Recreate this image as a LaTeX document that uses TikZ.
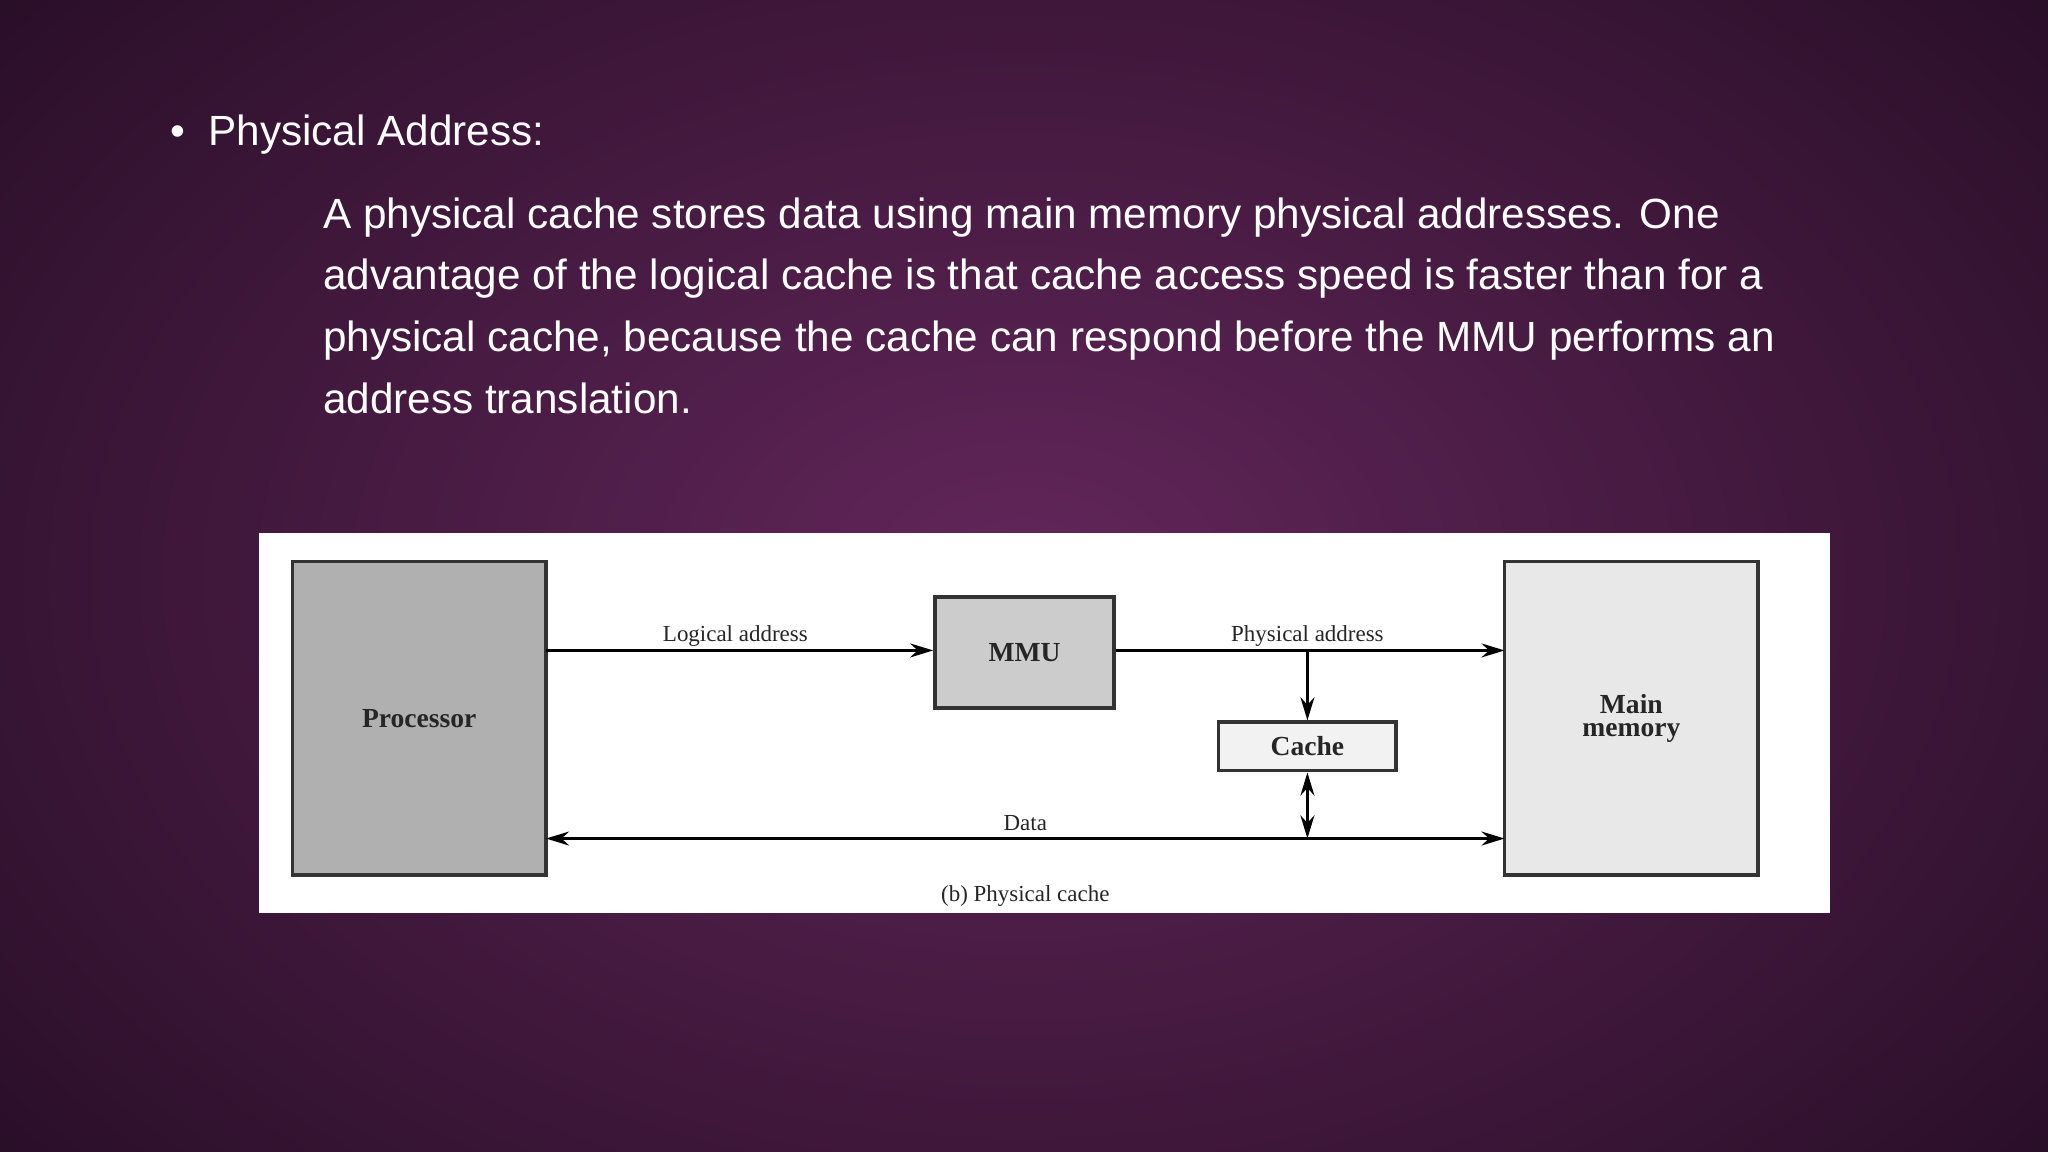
\documentclass[tikz,border=0pt]{standalone}
\usepackage{fontspec}
\setmainfont{Liberation Sans}
\newfontfamily\figfont{Liberation Serif}
\usetikzlibrary{arrows.meta}
\definecolor{bgdark}{HTML}{260D25}
\definecolor{bglight}{HTML}{62265A}
\tikzset{
  box/.style={draw=black!80,line width=0.8pt,inner sep=0pt,font=\figfont\fontsize{6}{6}\selectfont\bfseries,text=black!85},
  conn/.style={line width=0.8pt,-{Stealth[length=5pt,width=3pt]}},
  lbl/.style={font=\figfont\fontsize{5}{5}\selectfont,text=black!85},
  slide/.style={text=white,font=\fontsize{9.2}{13.4}\selectfont,anchor=west}
}
\begin{document}
\begin{tikzpicture}[x=0.01cm,y=-0.01cm]
  \useasboundingbox (0,0) rectangle (1568,882);
  \shade[inner color=bglight,outer color=bgdark] (-300,-300) rectangle (1868,1182);

  % slide text
  \node[slide] (bullet) at (118,103) {\textbullet\hspace{0.55em}Physical Address:};
  \node[slide,align=left,anchor=north west] (para) at (235,139) {A physical cache stores data using main memory physical addresses. One\\
    advantage of the logical cache is that cache access speed is faster than for a\\
    physical cache, because the cache can respond before the MMU performs an\\
    address translation.};

  % figure
  \fill[white] (198,408) rectangle (1401,699);
  \node[box,fill=black!31,minimum width=1.94cm,minimum height=2.4cm] (cpu) at (321,550) {Processor};
  \node[box,fill=black!20,minimum width=1.37cm,minimum height=0.85cm] (mmu) at (784.5,499.5) {MMU};
  \node[box,fill=black!9,minimum width=1.94cm,minimum height=2.4cm,align=center] (mem) at (1249,550) {Main\\[-1pt]memory};
  \node[box,fill=black!5,minimum width=1.36cm,minimum height=0.37cm] (cache) at (1001,571.5) {Cache};

  \coordinate (cpuA) at (418,498);
  \coordinate (memA) at (1152,498);
  \coordinate (tap) at (1001,498);
  \coordinate (cpuD) at (418,642);
  \coordinate (memD) at (1152,642);
  \coordinate (bus) at (1001,642);

  \draw[conn] (cpuA) -- (cpuA -| mmu.west);
  \draw[conn] (mmu.east |- memA) -- (memA);
  \draw[conn] (tap) -- (cache.north);
  \draw[conn,{Stealth[length=5pt,width=3pt]}-{Stealth[length=5pt,width=3pt]}] (cpuD) -- (memD);
  \draw[conn,{Stealth[length=5pt,width=3pt]}-{Stealth[length=5pt,width=3pt]}] (cache.south) -- (bus);

  \node[lbl] (la) at (563,487) {Logical address};
  \node[lbl] (pa) at (1001,487) {Physical address};
  \node[lbl] (data) at (785,630) {Data};
  \node[lbl] (cap) at (785,686) {(b) Physical cache};
\end{tikzpicture}
\end{document}
